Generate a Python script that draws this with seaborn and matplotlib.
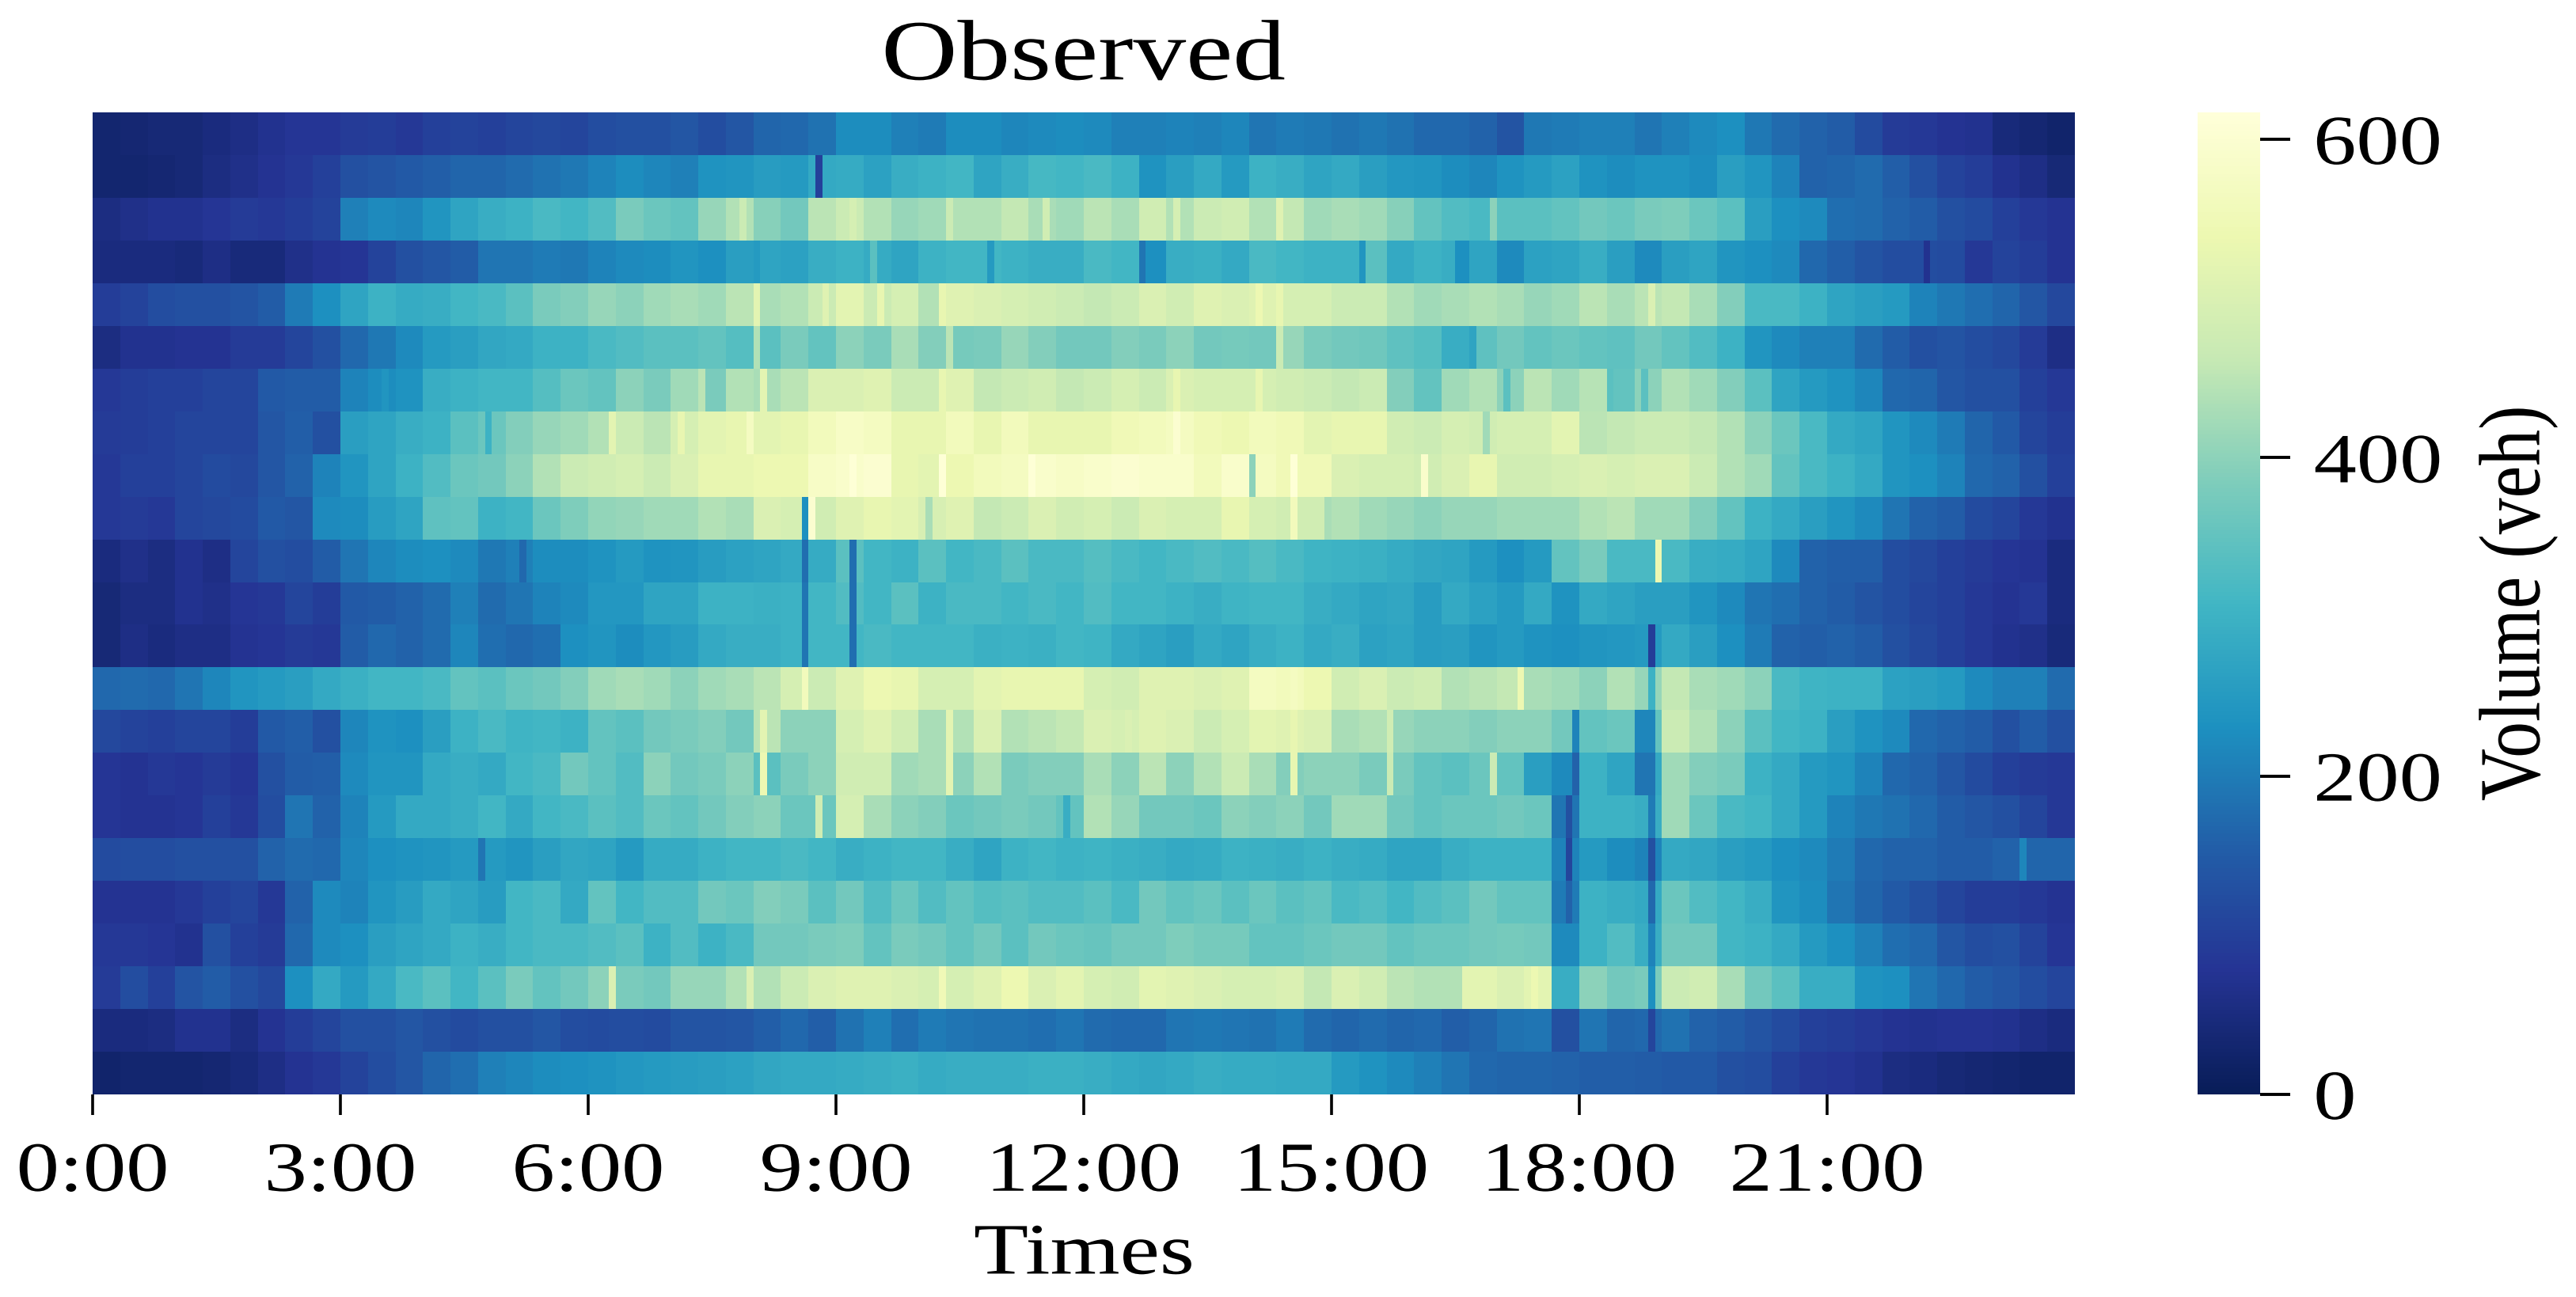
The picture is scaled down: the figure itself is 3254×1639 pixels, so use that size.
#!/usr/bin/env python3
import matplotlib
matplotlib.use("Agg")
import matplotlib.pyplot as plt
import matplotlib.patheffects as pe
import numpy as np
import seaborn as sns
from matplotlib.transforms import Affine2D

# volumes, one list per row, three values per hour
row_00 = [30,35,40, 40,50,60, 70,80,80, 90,95,85, 100,105,100, 110,115,110, 125,130,130, 140,125,140, 165,170,185, 225,225,205, 200,225,225, 215,220,225, 220,205,205, 210,205,215, 190,200,195, 185,195,185, 170,170,160, 135,195,200, 205,205,190, 205,220,230, 195,175,160, 150,120,90, 85,75,70, 45,35,25]
row_01 = [30,30,35, 40,55,65, 75,85,100, 130,135,145, 155,165,165, 175,185,195, 210,225,215, 205,235,240, 255,250,280, 285,265,290, 300,310,270, 290,315,310, 320,300,235, 260,280,250, 300,290,270, 280,260,245, 240,225,215, 235,250,265, 235,225,235, 235,225,260, 240,210,160, 165,175,155, 130,105,95, 70,60,40]
row_02 = [55,65,70, 70,80,90, 85,95,105, 205,220,215, 240,270,290, 300,320,310, 330,380,360, 350,410,440, 395,370,450, 470,440,410, 420,440,440, 460,430,420, 450,430,480, 440,470,480, 440,460,420, 430,420,395, 350,330,320, 340,340,350, 370,360,380, 385,360,340, 260,230,220, 180,175,160, 150,130,120, 100,85,75]
row_03 = [50,50,50, 45,60,45, 45,65,75, 80,105,130, 140,150,190, 190,200,195, 210,220,225, 240,230,260, 270,265,290, 300,285,270, 300,310,310, 300,290,290, 320,310,230, 290,295,280, 320,310,300, 300,340,280, 300,290,270, 220,265,270, 290,260,220, 260,270,240, 230,220,170, 155,135,125, 125,120,85, 105,95,75]
row_04 = [95,105,125, 130,130,135, 150,200,230, 270,300,285, 290,310,320, 340,380,390, 410,400,420, 430,420,450, 430,440,470, 520,470,490, 440,510,500, 490,480,470, 460,470,500, 480,510,500, 510,490,490, 470,470,440, 420,430,440, 430,410,420, 450,430,450, 460,430,390, 320,320,300, 270,260,250, 210,195,180, 165,140,115]
row_05 = [55,70,70, 75,75,90, 90,110,130, 170,195,220, 250,260,275, 280,300,300, 320,330,340, 340,350,335, 340,380,350, 400,380,430, 390,375,380, 410,390,370, 370,390,380, 400,370,375, 370,410,380, 370,365,345, 335,290,345, 370,350,360, 350,345,370, 350,330,300, 240,220,205, 205,175,150, 130,135,125, 115,90,60]
row_06 = [85,95,100, 100,110,110, 145,150,150, 210,225,235, 290,300,310, 310,335,360, 350,400,380, 420,380,440, 430,450,500, 500,510,470, 470,510,460, 470,480,460, 470,490,470, 500,490,490, 490,480,470, 460,470,390, 350,420,440, 400,450,420, 445,350,400, 440,420,390, 340,270,250, 235,215,170, 165,140,130, 130,100,85]
row_07 = [90,95,100, 110,110,110, 140,155,130, 260,270,290, 300,340,360, 390,410,420, 440,470,450, 490,520,530, 520,530,560, 580,570,530, 530,560,530, 560,530,530, 530,550,560, 570,550,540, 560,550,520, 530,530,480, 470,490,480, 490,490,520, 450,460,470, 470,460,440, 400,360,320, 280,270,240, 220,200,165, 145,110,95]
row_08 = [85,100,100, 110,120,115, 140,160,210, 240,270,300, 330,360,370, 400,440,470, 480,490,470, 500,530,530, 540,540,580, 590,600,530, 520,540,560, 570,590,580, 590,600,590, 590,560,590, 570,550,550, 500,490,490, 480,500,530, 480,480,490, 500,490,500, 500,470,440, 420,350,320, 300,280,240, 230,210,170, 160,130,100]
row_09 = [85,90,85, 110,115,120, 145,140,220, 225,255,270, 345,350,300, 310,360,385, 405,410,420, 420,440,430, 500,490,480, 510,530,520, 495,510,460, 470,500,480, 490,470,500, 490,490,530, 490,480,480, 440,420,410, 400,410,410, 420,420,420, 440,450,420, 420,390,350, 300,280,260, 240,220,190, 160,150,120, 110,85,70]
row_10 = [50,65,55, 70,60,110, 130,125,150, 190,215,225, 230,220,195, 205,225,225, 235,250,235, 240,255,265, 270,280,285, 340,310,300, 340,310,320, 340,320,320, 335,320,310, 320,330,320, 335,320,305, 300,295,285, 275,270,250, 230,250,350, 380,320,320, 320,290,285, 270,220,160, 155,155,125, 115,100,90, 80,75,50]
row_11 = [40,55,55, 70,65,80, 85,110,95, 145,150,160, 175,205,175, 190,210,220, 245,245,270, 270,300,300, 295,300,310, 330,310,340, 300,320,320, 310,320,310, 330,310,310, 300,290,305, 310,310,290, 280,270,275, 255,280,265, 250,280,235, 280,270,260, 260,240,220, 190,180,160, 150,135,125, 110,100,85, 75,85,50]
row_12 = [40,60,50, 60,60,75, 80,90,85, 150,170,160, 175,215,180, 170,180,230, 240,225,245, 255,280,290, 290,300,310, 310,320,310, 310,310,295, 300,295,310, 305,280,270, 260,280,270, 290,300,280, 290,265,270, 255,260,240, 250,235,230, 240,245,250, 280,260,230, 200,160,155, 160,150,130, 115,100,85, 70,65,45]
row_13 = [170,175,170, 190,215,240, 250,260,280, 295,310,310, 320,350,340, 360,370,390, 420,430,420, 400,420,430, 450,490,470, 510,540,530, 490,490,520, 530,530,530, 490,480,510, 510,500,510, 570,560,540, 480,500,470, 480,440,450, 460,430,420, 400,440,410, 460,430,420, 400,320,305, 300,300,265, 260,250,220, 205,205,175]
row_14 = [115,105,100, 110,110,95, 145,155,130, 215,235,230, 260,300,320, 305,310,300, 350,340,370, 380,390,370, 450,400,400, 490,510,480, 430,440,500, 440,450,460, 500,490,510, 500,470,490, 520,510,500, 430,440,410, 400,400,390, 400,400,370, 350,360,350, 470,440,400, 340,310,300, 260,235,220, 170,160,150, 130,150,130]
row_15 = [80,75,85, 80,90,80, 130,150,155, 220,240,240, 280,290,280, 310,320,370, 350,330,400, 370,380,400, 340,380,400, 480,480,420, 430,400,440, 380,390,390, 430,400,450, 400,440,470, 430,390,400, 400,380,380, 350,340,360, 350,260,220, 300,270,280, 420,390,380, 300,280,250, 240,210,170, 160,140,120, 100,90,85]
row_16 = [80,75,75, 80,100,85, 125,190,160, 210,250,280, 280,290,310, 280,310,320, 340,330,360, 350,370,390, 400,360,360, 490,430,400, 390,360,370, 380,370,350, 440,410,370, 370,360,400, 390,400,370, 420,420,370, 350,360,360, 370,360,190, 300,300,290, 420,360,320, 310,280,250, 210,195,185, 170,150,140, 130,110,85]
row_17 = [120,125,125, 130,130,130, 160,175,170, 215,230,235, 240,250,250, 240,260,275, 270,250,285, 285,300,310, 310,320,310, 290,300,310, 310,290,270, 300,310,300, 305,295,290, 280,285,300, 295,290,300, 290,285,270, 270,290,300, 300,300,210, 250,225,210, 280,275,260, 250,230,220, 200,170,160, 160,150,150, 160,165,165]
row_18 = [75,75,75, 85,100,110, 85,160,220, 210,240,255, 280,270,255, 310,320,280, 350,310,330, 330,370,360, 390,380,340, 370,330,360, 330,350,335, 340,330,330, 340,320,370, 350,360,340, 360,340,350, 320,330,310, 330,340,370, 350,350,200, 300,290,280, 360,330,310, 290,240,225, 190,165,145, 130,110,95, 95,85,75]
row_19 = [85,85,80, 70,130,100, 90,170,220, 230,260,270, 280,300,290, 310,320,320, 330,340,300, 330,300,320, 370,370,380, 385,350,380, 370,350,370, 340,370,360, 355,370,370, 385,375,375, 350,350,360, 370,370,350, 360,360,370, 375,370,220, 300,330,290, 370,370,310, 300,280,250, 230,205,180, 170,140,125, 130,105,80]
row_20 = [90,125,100, 135,150,130, 115,230,280, 250,280,320, 340,310,340, 380,350,370, 400,380,370, 410,410,440, 440,470,500, 510,510,500, 490,490,510, 540,500,520, 490,480,520, 510,500,490, 490,500,460, 500,480,450, 440,440,520, 500,520,290, 400,370,380, 470,480,430, 370,340,290, 290,235,230, 190,170,150, 140,125,110]
row_21 = [50,50,55, 70,70,55, 75,95,110, 130,130,140, 130,120,130, 130,140,125, 120,125,120, 135,135,140, 155,170,155, 185,205,180, 200,190,185, 185,180,190, 175,170,170, 190,195,190, 185,200,175, 165,175,165, 170,155,165, 185,190,130, 190,165,170, 185,160,150, 135,120,100, 95,85,75, 70,75,75, 70,60,50]
row_22 = [25,30,30, 30,35,45, 60,75,85, 105,125,140, 165,180,205, 215,225,230, 235,245,250, 255,260,265, 275,280,280, 285,290,295, 285,290,290, 290,295,295, 290,280,275, 280,290,285, 285,280,280, 250,235,220, 205,190,170, 165,165,160, 155,155,150, 145,145,130, 125,100,85, 80,70,55, 50,40,35, 30,25,25]

volume_rows = [row_00, row_01, row_02, row_03, row_04, row_05, row_06, row_07, row_08, row_09, row_10, row_11,
               row_12, row_13, row_14, row_15, row_16, row_17, row_18, row_19, row_20, row_21, row_22]

# one-slot (5 min) streaks seen in the picture, per row as {slot: volume}
streaks = {
    1: {105: 100},
    2: {94: 470, 110: 490, 124: 470, 138: 480, 157: 490, 172: 510, 203: 400},
    3: {96: 250, 113: 340, 130: 250, 144: 320, 152: 190, 184: 240, 198: 230, 199: 230, 266: 70},
    4: {96: 520, 106: 510, 114: 530, 123: 530, 169: 540, 172: 530, 226: 500},
    5: {96: 440, 124: 450, 172: 470, 200: 270},
    6: {42: 240, 88: 450, 97: 520, 123: 530, 157: 530, 169: 530, 205: 340, 220: 340, 225: 340},
    7: {57: 300, 75: 520, 85: 530, 95: 570, 157: 600, 202: 420},
    8: {110: 610, 123: 610, 136: 610, 168: 400, 174: 610, 193: 590},
    9: {103: 230, 104: 600, 121: 430, 174: 560, 179: 430},
    10: {62: 170, 103: 180, 110: 180, 227: 540},
    11: {103: 190, 110: 180},
    12: {103: 190, 110: 180, 226: 95},
    13: {103: 560, 174: 570, 207: 540, 226: 300},
    14: {97: 520, 124: 520, 150: 500, 174: 530, 188: 480, 215: 210, 224: 215, 225: 215, 226: 215},
    15: {97: 540, 124: 520, 174: 530, 188: 470, 203: 470, 215: 160, 224: 190, 225: 190, 226: 190},
    16: {105: 480, 141: 290, 214: 130, 226: 200},
    17: {56: 190, 214: 110, 226: 130, 280: 215},
    18: {214: 160, 226: 170},
    19: {226: 210},
    20: {75: 500, 95: 500, 123: 550, 199: 520, 209: 540, 226: 230},
    21: {75: 125, 226: 110},
}

tick_labels = ["0:00", "3:00", "6:00", "9:00", "12:00", "15:00", "18:00", "21:00"]
VMAX = 617


class Stretch(pe.AbstractPathEffect):
    """Scale a text's glyphs in its own frame; the picture has its text stretched sideways."""

    def __init__(self, sx=1.0, sy=1.0, anchor="center"):
        super().__init__()
        self.sx, self.sy, self.anchor = sx, sy, anchor

    def draw_path(self, renderer, gc, tpath, affine, rgbFace=None):
        ext = tpath.get_extents()
        cx = ext.x0 if self.anchor == "left" else (ext.x0 + ext.x1) / 2
        cy = (ext.y0 + ext.y1) / 2
        stretch = Affine2D().translate(-cx, -cy).scale(self.sx, self.sy).translate(cx, cy)
        renderer.draw_path(gc, tpath, stretch + affine, rgbFace)


def main() -> None:
    # the source is 5-minute data, the read-off is 20-minute, so each value fills four slots
    volume = np.repeat(np.array(volume_rows, dtype=float), 4, axis=1)
    for row, slots in streaks.items():
        for slot, val in slots.items():
            volume[row, slot] = val

    sns.set_theme(style="white")
    plt.rcParams["font.family"] = ["Liberation Serif", "DejaVu Serif"]

    W, H = 3255, 1640
    fig = plt.figure(figsize=(W / 100, H / 100), dpi=100)
    ax = fig.add_axes([117 / W, 1 - 1384 / H, (2621 - 117) / W, (1384 - 143) / H])
    cax = fig.add_axes([2776 / W, 1 - 1384 / H, (2855 - 2776) / W, (1384 - 143) / H])

    sns.heatmap(volume, ax=ax, cbar_ax=cax, cmap="YlGnBu_r", vmin=0, vmax=VMAX,
                xticklabels=False, yticklabels=False,
                cbar_kws={"ticks": [0, 200, 400, 600]})

    ax.set_xticks(np.arange(len(tick_labels)) * 36)
    ax.set_xticklabels(tick_labels, rotation=0, fontsize=64)
    ax.tick_params(axis="x", bottom=True, length=19, width=2.6, color="black", labelcolor="black", pad=24)
    for lab in ax.get_xticklabels():
        lab.set_path_effects([Stretch(sx=1.22)])
    xlab = ax.set_xlabel("Times", fontsize=66, labelpad=16, color="black")
    xlab.set_path_effects([Stretch(sx=1.235)])
    title = ax.set_title("Observed", fontsize=78, pad=30, color="black")
    title.set_path_effects([Stretch(sx=1.23)])

    cax.tick_params(axis="y", right=True, length=27, width=2.8, color="black", labelcolor="black", labelsize=64, pad=22)
    for lab in cax.get_yticklabels():
        lab.set_path_effects([Stretch(sx=1.22, anchor="left")])
    ylab = cax.set_ylabel("Volume (veh)", fontsize=66, labelpad=60, color="black")
    ylab.set_path_effects([Stretch(sy=1.2)])

    fig.savefig("out.png", dpi=100)
    plt.close(fig)


if __name__ == "__main__":
    main()
